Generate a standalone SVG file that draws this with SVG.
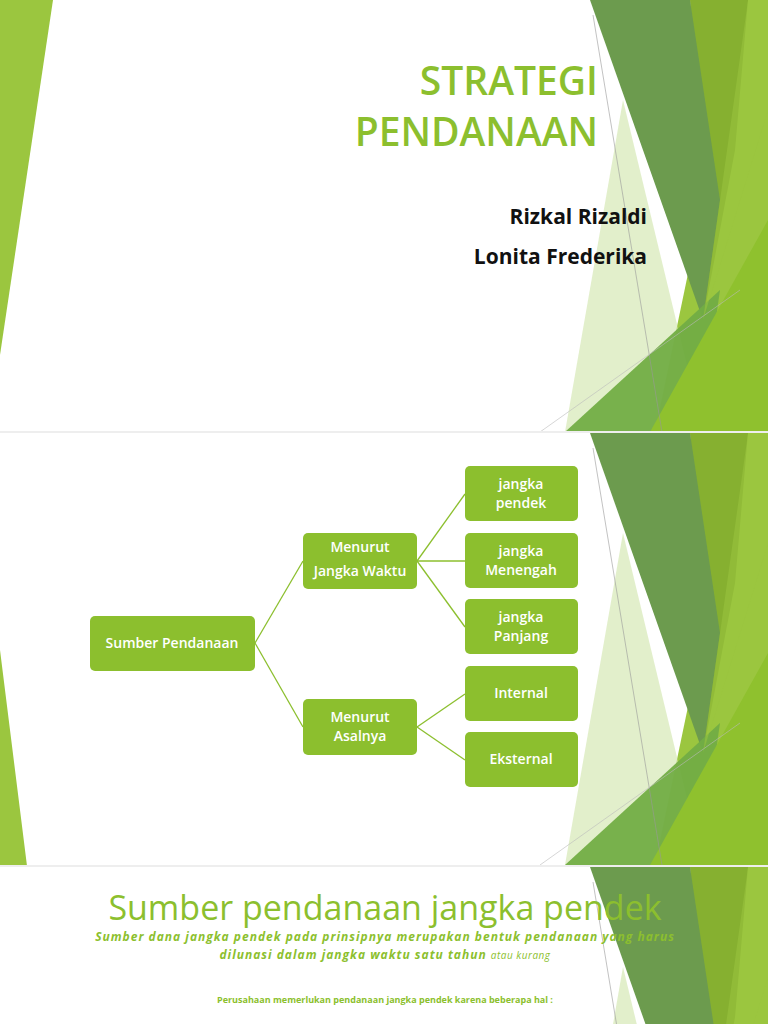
<svg xmlns="http://www.w3.org/2000/svg" xmlns:xlink="http://www.w3.org/1999/xlink" width="768" height="1024" viewBox="0 0 768 1024">
<style>
.box{fill:#8cbf2e}
.bt{fill:#fff;font-family:"Open Sans",sans-serif;font-size:14px;font-weight:600;text-anchor:middle}
.con{stroke:#8cbf2e;stroke-width:1.3;fill:none}
.gr{fill:#8cbf2e;font-family:"Open Sans",sans-serif}
</style>
<defs>
<clipPath id="c1"><rect x="0" y="0" width="768" height="432"/></clipPath>
<g id="deco">
<polygon points="745,0 768,0 768,432 655,432" fill="#9bc63f"/>
<polygon points="690,0 748,0 735,150 703,320" fill="#86b030"/>
<polygon points="590,0 690,0 720,200 703,320" fill="#6c9b4e"/>
<polygon points="623,100 703,432 565,432" fill="#cfe5a8" opacity="0.6"/>
<polygon points="565,432 720,290 700,432" fill="#72ad45" opacity="0.95"/>
<polygon points="650,432 768,220 768,432" fill="#8fc12e"/>
<polygon points="703,320 720,200 748,0 768,0 768,110" fill="#9bc63f" opacity="0.5"/>
<line x1="593" y1="15" x2="662" y2="432" stroke="#999" stroke-width="0.6"/>
<line x1="540" y1="432" x2="740" y2="290" stroke="#bbb" stroke-width="0.6"/>
</g>
</defs>
<rect width="768" height="1024" fill="#fff"/>
<polygon points="0,0 53,0 0,355" fill="#9bc63f"/>
<use xlink:href="#deco" clip-path="url(#c1)"/>
<g id="title1">
<text x="598" y="95" class="gr" font-size="39" font-weight="600" text-anchor="end">STRATEGI</text>
<text x="598" y="146" class="gr" font-size="39" font-weight="600" text-anchor="end">PENDANAAN</text>
</g>
<g id="authors" font-family="'Open Sans',sans-serif" font-weight="bold" font-size="21" fill="#111" text-anchor="end">
<text x="647" y="224">Rizkal Rizaldi</text>
<text x="647" y="264">Lonita Frederika</text>
</g>
<rect x="0" y="431" width="768" height="2" fill="#eee"/>
<polygon points="0,650 0,866 27,866" fill="#9bc63f"/>
<g transform="translate(0,433)"><use xlink:href="#deco" clip-path="url(#c1)"/></g>
<g id="connectors">
<line class="con" x1="255" y1="643" x2="303" y2="561"/>
<line class="con" x1="255" y1="643" x2="303" y2="727"/>
<line class="con" x1="417" y1="561" x2="465" y2="494"/>
<line class="con" x1="417" y1="561" x2="465" y2="561"/>
<line class="con" x1="417" y1="561" x2="465" y2="627"/>
<line class="con" x1="417" y1="727" x2="465" y2="694"/>
<line class="con" x1="417" y1="727" x2="465" y2="760"/>
</g>
<g id="n-sumber"><rect class="box" x="90" y="616" width="165" height="55" rx="5"/><text class="bt" x="172" y="648">Sumber Pendanaan</text></g>
<g id="n-waktu"><rect class="box" x="303" y="533" width="114" height="56" rx="5"/><text class="bt" x="360" y="552">Menurut</text><text class="bt" x="360" y="576">Jangka Waktu</text></g>
<g id="n-asal"><rect class="box" x="303" y="699" width="114" height="56" rx="5"/><text class="bt" x="360" y="722">Menurut</text><text class="bt" x="360" y="741">Asalnya</text></g>
<g id="n-pendek"><rect class="box" x="465" y="466" width="113" height="55" rx="5"/><text class="bt" x="521" y="489">jangka</text><text class="bt" x="521" y="508">pendek</text></g>
<g id="n-menengah"><rect class="box" x="465" y="533" width="113" height="55" rx="5"/><text class="bt" x="521" y="556">jangka</text><text class="bt" x="521" y="575">Menengah</text></g>
<g id="n-panjang"><rect class="box" x="465" y="599" width="113" height="55" rx="5"/><text class="bt" x="521" y="622">jangka</text><text class="bt" x="521" y="641">Panjang</text></g>
<g id="n-internal"><rect class="box" x="465" y="666" width="113" height="55" rx="5"/><text class="bt" x="521" y="698">Internal</text></g>
<g id="n-eksternal"><rect class="box" x="465" y="732" width="113" height="55" rx="5"/><text class="bt" x="521" y="764">Eksternal</text></g>
<rect x="0" y="865" width="768" height="2" fill="#eee"/>
<g transform="translate(0,867)"><use xlink:href="#deco" clip-path="url(#c1)"/></g>
<g id="slide3text">
<text x="385" y="920" class="gr" font-size="34" text-anchor="middle">Sumber pendanaan jangka pendek</text>
<text x="385" y="941" class="gr" font-size="12" font-style="italic" font-weight="bold" letter-spacing="1" text-anchor="middle">Sumber dana jangka pendek pada prinsipnya merupakan bentuk pendanaan yang harus</text>
<text x="385" y="959" class="gr" font-size="12" font-style="italic" font-weight="bold" letter-spacing="1" text-anchor="middle">dilunasi dalam jangka waktu satu tahun <tspan font-weight="normal" font-size="10" letter-spacing="0.5">atau kurang</tspan></text>
<text x="385" y="1003" class="gr" font-size="9" font-weight="bold" text-anchor="middle">Perusahaan memerlukan pendanaan jangka pendek karena beberapa hal :</text>
</g>
</svg>
